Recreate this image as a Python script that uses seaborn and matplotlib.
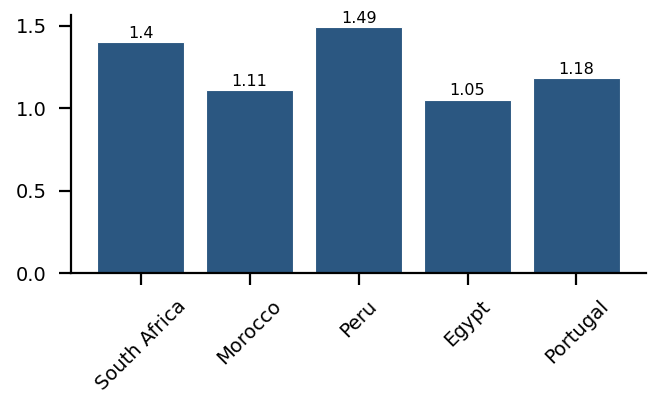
import seaborn as sns
import matplotlib.pyplot as plt
import pandas as pd

countries = ["South Africa", "Morocco", "Peru", "Egypt", "Portugal"]
values = [1.4, 1.11, 1.49, 1.05, 1.18]
bar_color = "#2b5781"

sns.set_theme(style="ticks", context="talk")
plt.rcParams['font.family'] = ['DejaVu Sans']

df = pd.DataFrame({"country": countries, "value": values})

fig, ax = plt.subplots(figsize=(6.52, 3.94), dpi=100)
fig.subplots_adjust(left=0.109, right=0.991, bottom=0.307, top=0.962)

sns.barplot(data=df, x="country", y="value", color=bar_color, saturation=1,
            width=0.8, edgecolor="white", linewidth=0.8, ax=ax)
ax.bar_label(ax.containers[0], labels=[str(v) for v in values],
             fontsize=11.5, padding=1, color="black")

ax.set(xlabel="", ylabel="")
ax.set_xlim(-0.64, len(countries) - 1 + 0.64)
ax.set_yticks([0.0, 0.5, 1.0, 1.5])
ax.tick_params(axis='both', labelsize=14, length=8.5, width=1.6,
               pad=9, labelcolor="black", color="black")
ax.tick_params(axis='x', pad=8.5)
plt.setp(ax.get_xticklabels(), rotation=45)
for s in ["left", "bottom"]:
    ax.spines[s].set_linewidth(1.6)
    ax.spines[s].set_color("black")
sns.despine(ax=ax)

fig.savefig("out.png", dpi=100)
